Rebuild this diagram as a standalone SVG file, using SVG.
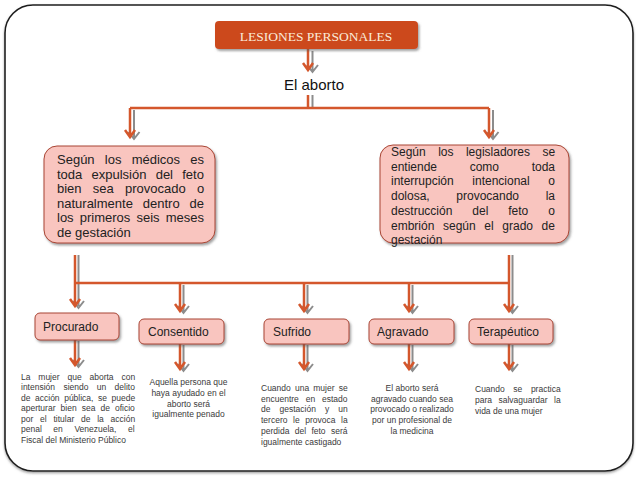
<svg xmlns="http://www.w3.org/2000/svg" width="638" height="479" viewBox="0 0 638 479">
<defs>
<filter id="sh" x="-10%" y="-10%" width="130%" height="140%">
<feDropShadow dx="1.5" dy="2" stdDeviation="1.2" flood-color="#555" flood-opacity="0.55"/>
</filter>
<filter id="fsh" x="-5%" y="-5%" width="110%" height="110%">
<feDropShadow dx="0" dy="1.5" stdDeviation="1" flood-color="#666" flood-opacity="0.6"/>
</filter>
</defs>
<style>
.frame{fill:#fff;stroke:#1e1e1e;stroke-width:1.6}
.box{fill:#F9C5BF;stroke:#A84534;stroke-width:1}
.title{fill:#CC4A1E}
.t-title{font-family:"Liberation Serif","Times New Roman",serif;font-size:13.5px;fill:#FBEAD8}
.t-main{font-family:"Liberation Sans",Arial,sans-serif;font-size:15px;fill:#111}
.t-big{font-family:"Liberation Sans",Arial,sans-serif;font-size:13px;fill:#222}
.t-big2{font-family:"Liberation Sans",Arial,sans-serif;font-size:12px;fill:#222}
.t-lbl{font-family:"Liberation Sans",Arial,sans-serif;font-size:12px;fill:#222}
.t-sm{font-family:"Liberation Sans",Arial,sans-serif;font-size:8.5px;fill:#3a3a3a}
.o{fill:none;stroke:#D4572C;stroke-width:2.5;stroke-linecap:butt}
.g{fill:none;stroke:#8C8C8C;stroke-width:2}
</style>

<rect class="frame" x="5" y="5" width="628" height="466" rx="28" ry="28" filter="url(#fsh)"/>

<g id="connectors">
<path class="g" d="M312.5,51 V71 M307,65 L312.5,72 L318,65"/>
<path class="g" d="M312.5,95 V108"/>
<path class="g" d="M134,110 V138 M128.5,132 L134,139 L139.5,132"/>
<path class="g" d="M493,110 V138 M487.5,132 L493,139 L498.5,132"/>
<path class="g" d="M78.5,255 V306 M73,301 L78.5,308 L84,301"/>
<path class="g" d="M183.5,285 V312 M178,306 L183.5,313 L189,306"/>
<path class="g" d="M307.5,285 V312 M302,306 L307.5,313 L313,306"/>
<path class="g" d="M412.5,285 V312 M407,306 L412.5,313 L418,306"/>
<path class="g" d="M512.5,255 V312 M507,306 L512.5,313 L518,306"/>
<path class="g" d="M78.5,341 V366 M73,360 L78.5,367 L84,360"/>
<path class="g" d="M183.5,345 V370 M178,364 L183.5,371 L189,364"/>
<path class="g" d="M307.5,345 V370 M302,364 L307.5,371 L313,364"/>
<path class="g" d="M412.5,345 V370 M407,364 L412.5,371 L418,364"/>
<path class="g" d="M512.5,345 V370 M507,364 L512.5,371 L518,364"/>
<path class="o" d="M308,49 V70 M303,63 L308,70 L313,63"/>
<path class="o" d="M308,95 V108 M130,108 H489"/>
<path class="o" d="M130,108 V137 M125,130 L130,137 L135,130"/>
<path class="o" d="M489,108 V137 M484,130 L489,137 L494,130"/>
<path class="o" d="M75,255 V306 M70,299 L75,306 L80,299"/>
<path class="o" d="M75,283 H509"/>
<path class="o" d="M180,283 V311 M175,304 L180,311 L185,304"/>
<path class="o" d="M304,283 V311 M299,304 L304,311 L309,304"/>
<path class="o" d="M409,283 V311 M404,304 L409,311 L414,304"/>
<path class="o" d="M509,255 V311 M504,304 L509,311 L514,304"/>
<path class="o" d="M75,340 V365 M70,358 L75,365 L80,358"/>
<path class="o" d="M180,344 V369 M175,362 L180,369 L185,362"/>
<path class="o" d="M304,344 V369 M299,362 L304,369 L309,362"/>
<path class="o" d="M409,344 V369 M404,362 L409,369 L414,362"/>
<path class="o" d="M509,344 V369 M504,362 L509,369 L514,362"/>
</g>

<g id="lesiones">
<rect class="title" x="215" y="21" width="203" height="28" rx="4" filter="url(#sh)"/>
<text class="t-title" x="316" y="40.5" text-anchor="middle">LESIONES PERSONALES</text>
</g>

<g id="aborto">
<text class="t-main" x="314" y="90" text-anchor="middle">El aborto</text>
</g>

<g id="medicos">
<rect class="box" x="44" y="146" width="171" height="97" rx="13" filter="url(#sh)"/>
<text class="t-big" x="57" y="164" word-spacing="6.6">Según los médicos es</text>
<text class="t-big" x="57" y="178.5" word-spacing="5.6">toda expulsión del feto</text>
<text class="t-big" x="57" y="193" word-spacing="7.6">bien sea provocado o</text>
<text class="t-big" x="57" y="207.5" word-spacing="6.3">naturalmente dentro de</text>
<text class="t-big" x="57" y="222" word-spacing="2.5">los primeros seis meses</text>
<text class="t-big" x="57" y="236.5">de gestación</text>
</g>

<g id="legisladores">
<rect class="box" x="380" y="145" width="189" height="98" rx="13" filter="url(#sh)"/>
<text class="t-big2" x="391" y="156" word-spacing="9.1">Según los legisladores se</text>
<text class="t-big2" x="391" y="170.7" word-spacing="29.3">entiende como toda</text>
<text class="t-big2" x="391" y="185.4" word-spacing="15.3">interrupción intencional o</text>
<text class="t-big2" x="391" y="200.1" word-spacing="23.3">dolosa, provocando la</text>
<text class="t-big2" x="391" y="214.8" word-spacing="16.6">destrucción del feto o</text>
<text class="t-big2" x="391" y="229.5" word-spacing="5.3">embrión según el grado de</text>
<text class="t-big2" x="391" y="244.2">gestación</text>
</g>

<g id="procurado">
<rect class="box" x="35" y="313" width="84" height="27" rx="5" filter="url(#sh)"/>
<text class="t-lbl" x="43" y="331">Procurado</text>
</g>
<g id="consentido">
<rect class="box" x="139" y="319" width="85" height="25" rx="5" filter="url(#sh)"/>
<text class="t-lbl" x="148" y="336">Consentido</text>
</g>
<g id="sufrido">
<rect class="box" x="264" y="319" width="85" height="25" rx="5" filter="url(#sh)"/>
<text class="t-lbl" x="273" y="336">Sufrido</text>
</g>
<g id="agravado">
<rect class="box" x="369" y="319" width="85" height="25" rx="5" filter="url(#sh)"/>
<text class="t-lbl" x="377" y="336">Agravado</text>
</g>
<g id="terapeutico">
<rect class="box" x="469" y="319" width="84" height="25" rx="5" filter="url(#sh)"/>
<text class="t-lbl" x="477" y="336">Terapéutico</text>
</g>

<g id="txt-procurado">
<text class="t-sm" x="21" y="379.5" word-spacing="5.5">La mujer que aborta con</text>
<text class="t-sm" x="21" y="390" word-spacing="6">intensión siendo un delito</text>
<text class="t-sm" x="21" y="400.5" word-spacing="2.2">de acción pública, se puede</text>
<text class="t-sm" x="21" y="411" word-spacing="2.7">aperturar bien sea de oficio</text>
<text class="t-sm" x="21" y="421.5" word-spacing="4.4">por el titular de la acción</text>
<text class="t-sm" x="21" y="432" word-spacing="9.2">penal en Venezuela, el</text>
<text class="t-sm" x="21" y="442.5">Fiscal del Ministerio Público</text>
</g>
<g id="txt-consentido">
<text class="t-sm" x="188.5" y="385" text-anchor="middle">Aquella persona que</text>
<text class="t-sm" x="188.5" y="395.8" text-anchor="middle">haya ayudado en el</text>
<text class="t-sm" x="188.5" y="406.6" text-anchor="middle">aborto será</text>
<text class="t-sm" x="188.5" y="417.4" text-anchor="middle">igualmente penado</text>
</g>
<g id="txt-sufrido">
<text class="t-sm" x="261" y="391" word-spacing="1.8">Cuando una mujer se</text>
<text class="t-sm" x="261" y="401.7" word-spacing="4.5">encuentre en estado</text>
<text class="t-sm" x="261" y="412.4" word-spacing="6.7">de gestación y un</text>
<text class="t-sm" x="261" y="423.1" word-spacing="3.2">tercero le provoca la</text>
<text class="t-sm" x="261" y="433.8" word-spacing="3">perdida del feto será</text>
<text class="t-sm" x="261" y="444.5">igualmente castigado</text>
</g>
<g id="txt-agravado">
<text class="t-sm" x="412" y="391" text-anchor="middle">El aborto será</text>
<text class="t-sm" x="412" y="401.7" text-anchor="middle">agravado cuando sea</text>
<text class="t-sm" x="412" y="412.4" text-anchor="middle">provocado o realizado</text>
<text class="t-sm" x="412" y="423.1" text-anchor="middle">por un profesional de</text>
<text class="t-sm" x="412" y="433.8" text-anchor="middle">la medicina</text>
</g>
<g id="txt-terapeutico">
<text class="t-sm" x="475" y="392.3" word-spacing="6.2">Cuando se practica</text>
<text class="t-sm" x="475" y="403" word-spacing="4.1">para salvaguardar la</text>
<text class="t-sm" x="475" y="413.7">vida de una mujer</text>
</g>
</svg>
